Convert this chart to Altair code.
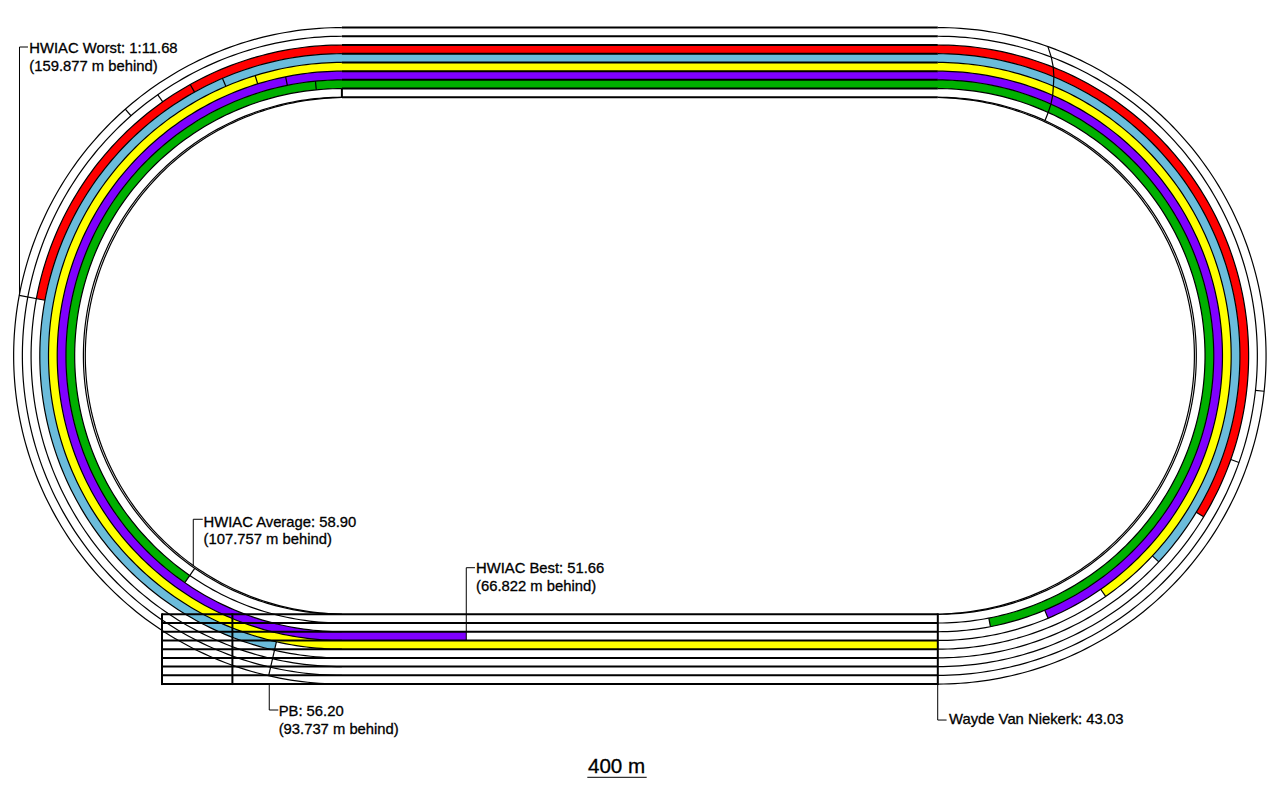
import numpy as np
import pandas as pd
import altair as alt

# ---- track geometry, metres from the infield centre ----
HALF_STRAIGHT = 42.195
KERB_R = 36.607
LANE_W = 1.2347
KERB_GAP = 0.27
GATE_X = -67.67     # left end of the box on the home straight
MARK_X = -57.7      # inner vertical of that box
PX_PER_M = 7.0615

# runners: lane, colour, start on right bend, end on left bend, end on home straight
run_name = ["Worst", "PB", "VanNiekerk", "Best", "Average"]
run_lane = [6, 5, 4, 3, 2]
run_color = ["#ff0000", "#6bbcdb", "#ffff00", "#7f00ff", "#00b000"]
run_start = [58.8, 47.0, 34.9, 22.8, 11.0]
run_end_bend = [79.4, 167.1, 180.0, 180.0, 145.3]
run_end_straight = [None, None, HALF_STRAIGHT, -24.58, None]

# stagger ticks
start_lane = [2, 3, 4, 5, 6, 7, 8]
start_deg = [11.0, 22.8, 34.9, 47.0, 58.8, 70.5, 83.8]
half_lane = [2, 3, 4, 5, 6, 7, 8]
half_deg = [5.5, 11.4, 17.2, 23.3, 29.2, 35.2, 41.3]

# break line across all lanes (angle on the right bend per lane boundary)
break_deg = [155.5, 155.6, 155.8, 156.2, 156.8, 157.4, 158.2, 159.2, 160.4]

# leaders
leader_x = [[-87.85, -87.85, -86.65],
            [-63.24, -63.24, -61.9],
            [-24.58, -24.58, -23.35],
            [-52.48, -52.48, -51.2],
            [42.18, 42.18, 43.44]]
leader_y = [[8.5, 43.73, 43.73],
            [-29.77, -23.15, -23.15],
            [-40.26, -30.01, -30.01],
            [-46.5, -50.16, -50.16],
            [-46.5, -51.58, -51.58]]

label_text = ["HWIAC Worst: 1:11.68", "(159.877 m behind)",
              "HWIAC Average: 58.90", "(107.757 m behind)",
              "HWIAC Best: 51.66", "(66.822 m behind)",
              "PB: 56.20", "(93.737 m behind)",
              "Wayde Van Niekerk: 43.03"]
label_x = [-86.46, -86.46, -61.79, -61.79, -23.2, -23.2, -51.15, -51.15, 43.78]
label_y = [42.92, 40.37, -24.2, -26.65, -30.72, -33.26, -51.0, -53.56, -52.14]

title_text = "400 m"
title_x = -3.3
title_y = -59.04
underline_x = [-7.44, 0.97]
underline_y = [-59.69, -59.69]


def boundary(b):
    return KERB_R + b * LANE_W


def right_pt(r, a):
    t = np.radians(a)
    return HALF_STRAIGHT + r * np.sin(t), -r * np.cos(t)


def left_pt(r, a):
    t = np.radians(a)
    return -HALF_STRAIGHT - r * np.sin(t), r * np.cos(t)


def sweep(fn, r, a0, a1):
    n = max(2, int(abs(a1 - a0)) + 2)
    return [fn(r, a) for a in np.linspace(a0, a1, n)]


def to_rows(key, pts):
    return [{"k": key, "i": i, "x": float(p[0]), "y": float(p[1])} for i, p in enumerate(pts)]


def kerb_offset(a):
    return KERB_GAP * abs(np.sin(np.radians(a))) ** 0.5


# bands
band_rows = []
for name, lane, col, a0, a1, xe in zip(run_name, run_lane, run_color, run_start, run_end_bend, run_end_straight):
    r = boundary(lane - 0.5)
    pts = sweep(right_pt, r, a0, 180) + sweep(left_pt, r, 0, a1)
    if xe is not None:
        pts.append((xe, -r))
    for row in to_rows(name, pts):
        row["c"] = col
        band_rows.append(row)

# thin bends
bend_rows = []
for b in range(9):
    r = boundary(b)
    bend_rows += to_rows(f"R{b}", sweep(right_pt, r, 0, 180))
    bend_rows += to_rows(f"L{b}", sweep(left_pt, r, 0, 180))
# second kerb line
bend_rows += to_rows("KR", sweep(lambda r, a: right_pt(r - kerb_offset(a), a), KERB_R, 0, 180))
bend_rows += to_rows("KL", sweep(lambda r, a: left_pt(r - kerb_offset(a), a), KERB_R, 0, 180))

# heavy straights
heavy_rows = []
for b in range(9):
    r = boundary(b)
    heavy_rows += to_rows(f"T{b}", [(-HALF_STRAIGHT, r), (HALF_STRAIGHT, r)])
    heavy_rows += to_rows(f"B{b}", [(GATE_X, -r), (HALF_STRAIGHT, -r)])
for xv in [GATE_X, MARK_X, HALF_STRAIGHT]:
    heavy_rows += to_rows(f"V{xv}", [(xv, -boundary(0) + 0.14), (xv, -boundary(8) - 0.14)])
heavy_rows += to_rows("Vtop", [(-HALF_STRAIGHT, boundary(0)), (-HALF_STRAIGHT, boundary(1))])

# thin ticks
tick_rows = []
for n, a in zip(start_lane, start_deg):
    tick_rows += to_rows(f"S{n}", [right_pt(boundary(n - 1), a), right_pt(boundary(n), a)])
for n, a in zip(half_lane, half_deg):
    tick_rows += to_rows(f"H{n}", [left_pt(boundary(n - 1), a), left_pt(boundary(n), a)])
tick_rows += to_rows("Ered", [left_pt(boundary(5), 79.4), left_pt(boundary(8), 79.4)])
tick_rows += to_rows("Egreen", [left_pt(boundary(0), 145.3), left_pt(boundary(2), 145.3)])
tick_rows += to_rows("Eblue", [left_pt(boundary(4), 167.1), left_pt(boundary(8), 167.1)])
tick_rows += to_rows("Break", [right_pt(boundary(b), a) for b, a in enumerate(break_deg)])

leader_rows = []
for i, (lx, ly) in enumerate(zip(leader_x, leader_y)):
    leader_rows += to_rows(f"Lead{i}", list(zip(lx, ly)))
leader_rows += to_rows("Under", list(zip(underline_x, underline_y)))

# ---- scales ----
WIDTH, HEIGHT = 1265, 770
CX, CY = 639.85, 355.8
xs = alt.Scale(domain=[(8 - CX) / PX_PER_M, (8 + WIDTH - CX) / PX_PER_M], nice=False, zero=False)
ys = alt.Scale(domain=[(CY - 8 - HEIGHT) / PX_PER_M, (CY - 8) / PX_PER_M], nice=False, zero=False)
X = alt.X("x:Q", scale=xs, axis=None)
Y = alt.Y("y:Q", scale=ys, axis=None)


def lines(rows, width, color="#000000", color_field=None):
    enc = dict(x=X, y=Y, detail="k:N", order="i:Q")
    if color_field:
        enc["color"] = alt.Color(f"{color_field}:N", scale=None, legend=None)
    return alt.Chart(pd.DataFrame(rows)).mark_line(
        strokeWidth=width, strokeCap="butt", strokeJoin="round", color=color
    ).encode(**enc)


labels = pd.DataFrame({"x": label_x, "y": label_y, "t": label_text})
label_layer = alt.Chart(labels).mark_text(
    align="left", baseline="alphabetic", font="Liberation Sans", fontSize=14.8, color="#000000",
    stroke="#000000", strokeWidth=0.3
).encode(x=X, y=Y, text="t:N")
title_layer = alt.Chart(pd.DataFrame({"x": [title_x], "y": [title_y], "t": [title_text]})).mark_text(
    align="center", baseline="alphabetic", font="Liberation Sans", fontSize=20.6, color="#000000",
    stroke="#000000", strokeWidth=0.3
).encode(x=X, y=Y, text="t:N")

chart = alt.layer(
    lines(band_rows, 8.7, color_field="c"),
    lines(bend_rows, 1.2),
    lines(heavy_rows, 2.0),
    lines(tick_rows, 1.2),
    lines(leader_rows, 1.0),
    label_layer,
    title_layer,
).properties(
    width=WIDTH, height=HEIGHT, padding=0, autosize=alt.AutoSizeParams(type="none"), background="#ffffff"
).configure_view(stroke=None)

chart.save("out.html", embed_options={"renderer": "svg", "actions": False})
